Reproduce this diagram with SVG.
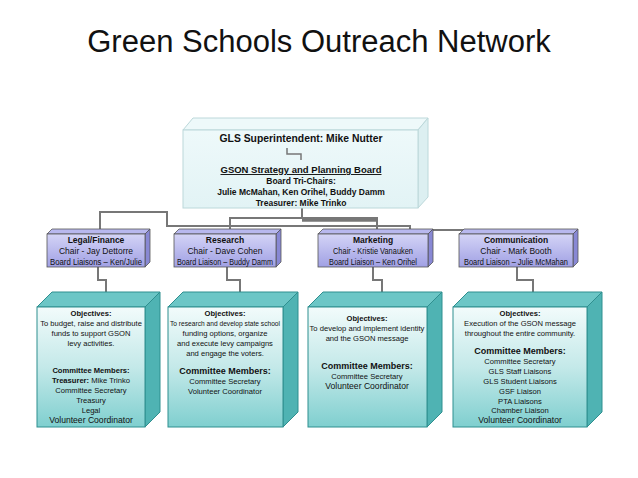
<svg xmlns="http://www.w3.org/2000/svg" width="638" height="478" viewBox="0 0 638 478">
<defs>
<linearGradient id="hg" x1="0" y1="0" x2="0" y2="1"><stop offset="0" stop-color="#d4d4f6"/><stop offset="1" stop-color="#a0a0e4"/></linearGradient>
<linearGradient id="og" x1="0" y1="0" x2="0" y2="1"><stop offset="0" stop-color="#f2fbfb"/><stop offset="0.5" stop-color="#c4e9e9"/><stop offset="1" stop-color="#7fcfcf"/></linearGradient>
<linearGradient id="tg" x1="0" y1="0" x2="0" y2="1"><stop offset="0" stop-color="#eef9fa"/><stop offset="1" stop-color="#e2f3f5"/></linearGradient>
<style>
text{font-family:"Liberation Sans",Arial,sans-serif;fill:#111;text-anchor:middle}
.h{font-size:8.5px}.b{font-weight:bold}.o{font-size:7.6px}.m{font-size:9px;font-weight:bold}.v{font-size:8.6px}
.head rect{fill:url(#hg);stroke:#555;stroke-width:0.8}
.head .s{fill:#8888d4;stroke:#555;stroke-width:0.8}
.head .t{fill:#b8b8ee;stroke:#555;stroke-width:0.8}
.obj .f{fill:url(#og);stroke:#2f8f8f;stroke-width:1}
.obj .s{fill:#4fb3b3;stroke:#2f8f8f;stroke-width:1}
.obj .t{fill:#6cc6c6;stroke:#2f8f8f;stroke-width:1}
#connectors path{fill:none;stroke:#777;stroke-width:2}
</style>
</defs>
<rect width="638" height="478" fill="#fff"/>
<text x="319" y="52" style="font-size:31px">Green Schools Outreach Network</text>

<g id="connectors">
<path d="M302 208V218H230V232"/>
<path d="M302 218H377V232"/>
<path d="M302 220H377" style="stroke-width:3.5"/>
<path d="M100 234V212H167V226H410V230H470V234"/>
<path d="M98 267V280H106V292"/>
<path d="M227 267V280H240V292"/>
<path d="M373 267V280H382V292"/>
<path d="M517 267V280H533V292"/>
</g>

<g id="top">
<polygon points="183,130 193,118 428,118 418,130" fill="#eef9fa" stroke="#bcd8da"/>
<polygon points="418,130 428,118 428,197 418,208" fill="#dceff1" stroke="#bcd8da"/>
<rect x="183" y="130" width="235" height="78" fill="url(#tg)" stroke="#bcd8da"/>
<path d="M287 148V154H301V160" fill="none" stroke="#777" stroke-width="1.5"/>
<text x="301" y="142" class="b" style="font-size:11px" textLength="163" lengthAdjust="spacingAndGlyphs">GLS Superintendent:  Mike Nutter</text>
<text x="301" y="173" class="b" style="font-size:9.5px;text-decoration:underline">GSON Strategy and Planning Board</text>
<text x="301" y="184" class="h b">Board Tri-Chairs:</text>
<text x="301" y="195" class="h b">Julie McMahan, Ken Orihel, Buddy Damm</text>
<text x="301" y="206" class="h b">Treasurer:  Mike Trinko</text>
</g>

<g id="legal" class="head">
<polygon class="t" points="47,234 52,229 150,229 145,234"/><polygon class="s" points="145,234 150,229 150,262 145,267"/>
<rect x="47" y="234" width="98" height="33"/>
<text x="96" y="243" class="h b">Legal/Finance</text><text x="96" y="254" class="h">Chair - Jay Dettorre</text><text x="96" y="265" class="h" textLength="92" lengthAdjust="spacingAndGlyphs">Board Liaisons – Ken/Julie</text>
</g>
<g id="research" class="head">
<polygon class="t" points="174,234 179,229 281,229 276,234"/><polygon class="s" points="276,234 281,229 281,262 276,267"/>
<rect x="174" y="234" width="102" height="33"/>
<text x="225" y="243" class="h b">Research</text><text x="225" y="254" class="h">Chair - Dave Cohen</text><text x="225" y="265" class="h" textLength="96" lengthAdjust="spacingAndGlyphs">Board Liaison – Buddy Damm</text>
</g>
<g id="marketing" class="head">
<polygon class="t" points="318,234 323,229 433,229 428,234"/><polygon class="s" points="428,234 433,229 433,262 428,267"/>
<rect x="318" y="234" width="110" height="33"/>
<text x="373" y="243" class="h b">Marketing</text><text x="373" y="254" class="h" textLength="80" lengthAdjust="spacingAndGlyphs">Chair - Kristie Vanauken</text><text x="373" y="265" class="h" textLength="88" lengthAdjust="spacingAndGlyphs">Board Liaison – Ken Orihel</text>
</g>
<g id="communication" class="head">
<polygon class="t" points="459,234 464,229 578,229 573,234"/><polygon class="s" points="573,234 578,229 578,262 573,267"/>
<rect x="459" y="234" width="114" height="33"/>
<text x="516" y="243" class="h b">Communication</text><text x="516" y="254" class="h">Chair - Mark Booth</text><text x="516" y="265" class="h" textLength="104" lengthAdjust="spacingAndGlyphs">Board Liaison – Julie McMahan</text>
</g>

<g id="obj-legal" class="obj">
<polygon class="t" points="37,307 52,292 160,292 145,307"/><polygon class="s" points="145,307 160,292 160,412 145,427"/>
<rect class="f" x="37" y="307" width="108" height="120"/>
<text x="91" y="316" class="o b">Objectives:</text>
<text x="91" y="326" class="o">To budget, raise and distribute</text>
<text x="91" y="336" class="o">funds to support GSON</text>
<text x="91" y="346" class="o">levy activities.</text>
<text x="91" y="373" class="o b">Committee Members:</text>
<text x="91" y="383" class="o"><tspan class="b">Treasurer:</tspan>  Mike Trinko</text>
<text x="91" y="393" class="o">Committee Secretary</text>
<text x="91" y="403" class="o">Treasury</text>
<text x="91" y="413" class="o">Legal</text>
<text x="91" y="423" class="v">Volunteer Coordinator</text>
</g>
<g id="obj-research" class="obj">
<polygon class="t" points="168,307 183,292 298,292 283,307"/><polygon class="s" points="283,307 298,292 298,412 283,427"/>
<rect class="f" x="168" y="307" width="115" height="120"/>
<text x="225" y="316" class="o b">Objectives:</text>
<text x="225" y="326" class="o" textLength="110" lengthAdjust="spacingAndGlyphs">To research and develop state school</text>
<text x="225" y="336" class="o">funding options, organize</text>
<text x="225" y="346" class="o">and execute levy campaigns</text>
<text x="225" y="356" class="o">and engage the voters.</text>
<text x="225" y="374" class="m">Committee Members:</text>
<text x="225" y="384" class="o">Committee Secretary</text>
<text x="225" y="394" class="o">Volunteer Coordinator</text>
</g>
<g id="obj-marketing" class="obj">
<polygon class="t" points="308,307 323,292 442,292 427,307"/><polygon class="s" points="427,307 442,292 442,412 427,427"/>
<rect class="f" x="308" y="307" width="119" height="120"/>
<text x="367" y="321" class="o b">Objectives:</text>
<text x="367" y="331" class="o">To develop and implement identity</text>
<text x="367" y="341" class="o">and the GSON message</text>
<text x="367" y="369" class="m">Committee Members:</text>
<text x="367" y="379" class="o">Committee Secretary</text>
<text x="367" y="389" class="v">Volunteer Coordinator</text>
</g>
<g id="obj-communication" class="obj">
<polygon class="t" points="453,307 468,292 602,292 587,307"/><polygon class="s" points="587,307 602,292 602,412 587,427"/>
<rect class="f" x="453" y="307" width="134" height="120"/>
<text x="520" y="316" class="o b">Objectives:</text>
<text x="520" y="326" class="o">Execution of the GSON message</text>
<text x="520" y="336" class="o">throughout the entire community.</text>
<text x="520" y="354" class="m">Committee Members:</text>
<text x="520" y="364" class="o">Committee Secretary</text>
<text x="520" y="374" class="o">GLS Staff Liaisons</text>
<text x="520" y="384" class="o">GLS Student Liaisons</text>
<text x="520" y="394" class="o">GSF Liaison</text>
<text x="520" y="404" class="o">PTA Liaisons</text>
<text x="520" y="413" class="o">Chamber Liaison</text>
<text x="520" y="423" class="v">Volunteer Coordinator</text>
</g>
</svg>
